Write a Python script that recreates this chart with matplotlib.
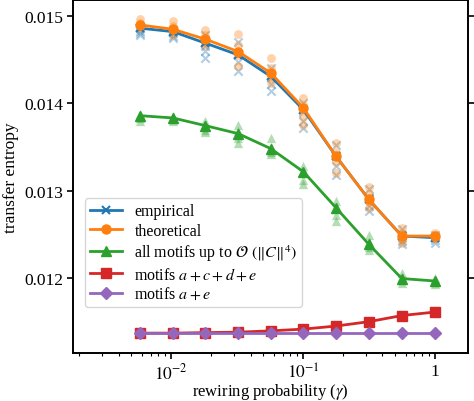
import matplotlib
matplotlib.use("Agg")
import matplotlib.pyplot as plt
import numpy as np

gamma = [0.0058, 0.0103, 0.0182, 0.0322, 0.0570, 0.1008, 0.178, 0.316, 0.562, 1.0]

empirical = [0.014860, 0.014821, 0.014689, 0.014555, 0.014308, 0.013928, 0.013396, 0.012902, 0.012484, 0.012465]
theoretical = [0.014897, 0.014848, 0.014734, 0.014593, 0.014347, 0.013948, 0.013396, 0.012902, 0.012484, 0.012484]
motifs_all = [0.013860, 0.013834, 0.013746, 0.013655, 0.013483, 0.013218, 0.012807, 0.012389, 0.011998, 0.011970]
motifs_acde = [0.011374, 0.011374, 0.011380, 0.011385, 0.011400, 0.011420, 0.011455, 0.011505, 0.011575, 0.011615]
motifs_ae = [0.011374, 0.011374, 0.011374, 0.011374, 0.011374, 0.011374, 0.011374, 0.011374, 0.011374, 0.011374]

# individual trials (faded markers), one row per gamma
theo_trials = [
    [0.01497, 0.01492, 0.01489, 0.01486],
    [0.01494, 0.01488, 0.01483, 0.01478],
    [0.01484, 0.01478, 0.01470, 0.01467],
    [0.01479, 0.01467, 0.01455, 0.01443],
    [0.01452, 0.01440, 0.01430, 0.01423],
    [0.01406, 0.01398, 0.01385, 0.01375],
    [0.01355, 0.01345, 0.01333, 0.01320],
    [0.01305, 0.01296, 0.01287, 0.01280],
    [0.01258, 0.01252, 0.01245, 0.01240],
    [0.01252, 0.01250, 0.01247, 0.01245],
]
emp_trials = [
    [0.01486, 0.01483, 0.01480, 0.01478],
    [0.01484, 0.01481, 0.01477, 0.01475],
    [0.01478, 0.01466, 0.01460, 0.01452],
    [0.01470, 0.01456, 0.01447, 0.01437],
    [0.01440, 0.01430, 0.01422, 0.01414],
    [0.01400, 0.01390, 0.01380, 0.01372],
    [0.01352, 0.01340, 0.01328, 0.01318],
    [0.01302, 0.01292, 0.01283, 0.01277],
    [0.01256, 0.01250, 0.01243, 0.01239],
    [0.01250, 0.01247, 0.01244, 0.01241],
]
all_trials = [
    [0.01388, 0.01386, 0.01383, 0.01380],
    [0.01386, 0.01384, 0.01382, 0.01380],
    [0.01380, 0.01376, 0.01370, 0.01367],
    [0.01375, 0.01368, 0.01360, 0.01355],
    [0.01360, 0.01350, 0.01345, 0.01342],
    [0.01328, 0.01322, 0.01313, 0.01308],
    [0.01288, 0.01280, 0.01272, 0.01266],
    [0.01250, 0.01242, 0.01236, 0.01232],
    [0.01206, 0.01202, 0.01198, 0.01195],
    [0.01200, 0.01198, 0.01196, 0.01194],
]

plt.rcParams['font.family'] = ['Liberation Serif', 'DejaVu Serif']
plt.rcParams['mathtext.fontset'] = 'stix'
plt.rcParams['font.size'] = 11.5

fig = plt.figure(figsize=(4.74, 4.02), dpi=100)
ax = fig.add_axes([0.154, 0.119, 0.833, 0.878])

blue, orange, green, red, purple = '#1f77b4', '#ff7f0e', '#2ca02c', '#d62728', '#9467bd'

for i, g in enumerate(gamma):
    ax.scatter([g] * len(emp_trials[i]), emp_trials[i], marker='x', color=blue, alpha=0.35, s=36, linewidths=1.5, zorder=1)
    ax.scatter([g] * len(theo_trials[i]), theo_trials[i], marker='o', color=orange, alpha=0.35, s=40, linewidths=0, zorder=1)
    ax.scatter([g] * len(all_trials[i]), all_trials[i], marker='^', color=green, alpha=0.35, s=45, linewidths=0, zorder=1)

lw = 2.0
ax.plot(gamma, empirical, color=blue, marker='x', lw=lw, ms=6, mew=1.5, label='empirical', zorder=3)
ax.plot(gamma, theoretical, color=orange, marker='o', lw=lw, ms=6.5, label='theoretical', zorder=3)
ax.plot(gamma, motifs_all, color=green, marker='^', lw=lw, ms=7, label=r'all motifs up to $\mathcal{O}$ $(\|C\|^4)$', zorder=3)
ax.plot(gamma, motifs_acde, color=red, marker='s', lw=lw, ms=6.5, label=r'motifs $a + c + d + e$', zorder=3)
ax.plot(gamma, motifs_ae, color=purple, marker='D', lw=lw, ms=6.5, label=r'motifs $a + e$', zorder=3)

ax.set_xscale('log')
ax.set_xlim(0.0018, 1.78)
ax.set_ylim(0.011145, 0.01518)
ax.set_yticks([0.012, 0.013, 0.014, 0.015])
ax.set_xticks([0.01, 0.1, 1])
ax.set_xticklabels([r'$10^{-2}$', r'$10^{-1}$', '1'])
ax.tick_params(which='both', direction='out', right=True, labelsize=12.5)
ax.tick_params(which='major', length=4, width=1.2, pad=3)
ax.tick_params(which='minor', length=2.5, width=0.8)
for s in ax.spines.values():
    s.set_linewidth(1.4)

ax.set_xlabel(r'rewiring probability ($\gamma$)', fontsize=12, va='center')
ax.xaxis.set_label_coords(0.5, -0.108)
ax.set_ylabel('transfer entropy', fontsize=12.5, labelpad=4)

ax.legend(loc='lower left', bbox_to_anchor=(0.01, 0.108), frameon=True, fancybox=True,
          framealpha=0.8, edgecolor='#cccccc', handlelength=2.0, borderpad=0.3, labelspacing=0.22,
          fontsize=11.5)

fig.savefig('out.png', dpi=100)
